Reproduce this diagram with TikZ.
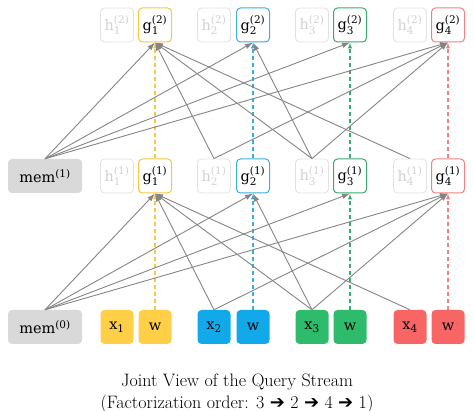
\documentclass[tikz,border=0pt]{standalone}
\usepackage{fontspec}
\newfontfamily\arrowfont{DejaVu Sans}
\newfontfamily\labfont{DejaVu Serif}
\newcommand\labsmall{\fontsize{10.5}{10.5}\selectfont}
\newcommand\nodelab[3]{#1$^{\mbox{\labsmall(#3)}}_{\mbox{\labsmall #2}}$}
\newcommand\nodesub[2]{#1$_{\mbox{\labsmall #2}}$}
\usetikzlibrary{arrows.meta}
\definecolor{cyel}{HTML}{FFCF47}
\definecolor{cblue}{HTML}{12A9EA}
\definecolor{cgreen}{HTML}{2FBB6C}
\definecolor{cred}{HTML}{F86565}
\definecolor{lyel}{HTML}{F7C843}
\definecolor{lblue}{HTML}{3BAEE0}
\definecolor{lgreen}{HTML}{3BAA6E}
\definecolor{lred}{HTML}{F08282}
\definecolor{hgray}{HTML}{E2E2E2}
\definecolor{htext}{HTML}{D2D2D2}
\definecolor{memgray}{HTML}{D9D9D9}
\definecolor{agray}{HTML}{858585}
\begin{document}
\begin{tikzpicture}[x=1pt,y=-1pt,
  box/.style={rectangle, rounded corners=4pt, minimum width=33pt, minimum height=34pt, inner sep=0pt, font=\labfont\fontsize{14.5}{16}\selectfont},
  hbox/.style={box, draw=hgray, line width=0.8pt, text=htext, fill=white},
  gbox/.style={box, draw=#1, line width=1pt, fill=white},
  xbox/.style={box, fill=#1},
  membox/.style={box, fill=memgray, minimum width=74pt},
  garrow/.style={draw=agray, line width=0.9pt, -{Latex[length=8pt,width=5.5pt]}},
  darrow/.style={draw=#1, line width=1.1pt, dash pattern=on 4pt off 3pt, -{Latex[length=6pt,width=4.5pt]}}
]
\useasboundingbox (0,0) rectangle (474,411);
% bottom row
\node[membox] (m0) at (45,327) {mem$^{\mbox{\labsmall(0)}}$};
\node[xbox=cyel] (x1) at (117,327) {\nodesub{x}{1}};
\node[xbox=cyel] (w1) at (155,327) {w};
\node[xbox=cblue] (x2) at (214,327) {\nodesub{x}{2}};
\node[xbox=cblue] (w2) at (253,327) {w};
\node[xbox=cgreen] (x3) at (312,327) {\nodesub{x}{3}};
\node[xbox=cgreen] (w3) at (350,327) {w};
\node[xbox=cred] (x4) at (410,327) {\nodesub{x}{4}};
\node[xbox=cred] (w4) at (448,327) {w};
% middle row
\node[membox] (m1) at (45,176) {mem$^{\mbox{\labsmall(1)}}$};
\node[hbox] (h11) at (117,176) {\nodelab{h}{1}{1}};
\node[gbox=lyel] (g11) at (155,176) {\nodelab{g}{1}{1}};
\node[hbox] (h21) at (214,176) {\nodelab{h}{2}{1}};
\node[gbox=lblue] (g21) at (253,176) {\nodelab{g}{2}{1}};
\node[hbox] (h31) at (312,176) {\nodelab{h}{3}{1}};
\node[gbox=lgreen] (g31) at (350,176) {\nodelab{g}{3}{1}};
\node[hbox] (h41) at (410,176) {\nodelab{h}{4}{1}};
\node[gbox=lred] (g41) at (448,176) {\nodelab{g}{4}{1}};
% top row
\node[hbox] (h12) at (117,25) {\nodelab{h}{1}{2}};
\node[gbox=lyel] (g12) at (155,25) {\nodelab{g}{1}{2}};
\node[hbox] (h22) at (214,25) {\nodelab{h}{2}{2}};
\node[gbox=lblue] (g22) at (253,25) {\nodelab{g}{2}{2}};
\node[hbox] (h32) at (312,25) {\nodelab{h}{3}{2}};
\node[gbox=lgreen] (g32) at (350,25) {\nodelab{g}{3}{2}};
\node[hbox] (h42) at (410,25) {\nodelab{h}{4}{2}};
\node[gbox=lred] (g42) at (448,25) {\nodelab{g}{4}{2}};
% dashed arrows
\draw[darrow=lyel] (w1) -- (g11);
\draw[darrow=lblue] (w2) -- (g21);
\draw[darrow=lgreen] (w3) -- (g31);
\draw[darrow=lred] (w4) -- (g41);
\draw[darrow=lyel] (g11) -- (g12);
\draw[darrow=lblue] (g21) -- (g22);
\draw[darrow=lgreen] (g31) -- (g32);
\draw[darrow=lred] (g41) -- (g42);
% layer 1
\foreach \g in {g11,g21,g31,g41} \draw[garrow] (m0.north) -- (\g.south);
\draw[garrow] (x3.north) -- (g21.south);
\draw[garrow] (x3.north) -- (g41.south);
\draw[garrow] (x2.north) -- (g41.south);
\draw[garrow] (x2.north) -- (g11.south);
\draw[garrow] (x3.north) -- (g11.south);
\draw[garrow] (x4.north) -- (g11.south);
% layer 2
\foreach \g in {g12,g22,g32,g42} \draw[garrow] (m1.north) -- (\g.south);
\draw[garrow] (h31.north) -- (g22.south);
\draw[garrow] (h31.north) -- (g42.south);
\draw[garrow] (h21.north) -- (g42.south);
\draw[garrow] (h21.north) -- (g12.south);
\draw[garrow] (h31.north) -- (g12.south);
\draw[garrow] (h41.north) -- (g12.south);
% caption
\node[align=center, font=\fontsize{18}{22}\selectfont] (cap) at (237,393) {Joint View of the Query Stream\\(Factorization order: 3 {\arrowfont ➔} 2 {\arrowfont ➔} 4 {\arrowfont ➔} 1)};
\end{tikzpicture}
\end{document}
